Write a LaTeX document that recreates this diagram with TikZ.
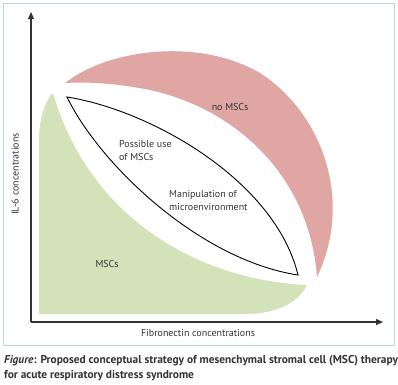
\documentclass[tikz,border=0pt]{standalone}
\usepackage{fontspec}
\setmainfont{PT Sans}
\usetikzlibrary{arrows.meta}
\definecolor{ink}{HTML}{333333}
\definecolor{frame}{HTML}{B9D7DF}
\definecolor{nomsc}{HTML}{DFA6A4}
\definecolor{msc}{HTML}{D4E2BA}
\begin{document}
\begin{tikzpicture}[>={Triangle[length=7pt,width=6pt]},x=1pt,y=-1pt,
  lbl/.style={font=\fontsize{10}{13}\selectfont,text=ink,align=left,inner sep=0pt}]
 \useasboundingbox (0,0) rectangle (398,384);
 \draw[frame] (3,3) rectangle (394,345);
 \fill[msc] (39,314) -- (245,314) .. controls (280,314) and (300,300) .. (307,285)
   .. controls (200,280) and (90,220) .. (53,93)
   .. controls (45,100) and (39,120) .. (39,140) -- cycle;
 \fill[nomsc] (65,83) .. controls (110,48) and (200,38) .. (260,73)
   .. controls (322,113) and (354,200) .. (317,277)
   .. controls (310,180) and (240,110) .. (150,90)
   .. controls (110,82) and (80,82) .. (65,83) -- cycle;
 \draw[black,line width=0.9pt] (67,97) .. controls (150,110) and (275,180) .. (298,275)
   .. controls (200,260) and (100,165) .. (67,97) -- cycle;
 \coordinate (o) at (31,322);
 \coordinate (ytip) at (31,12);
 \coordinate (xtip) at (383,322);
 \draw[->,ink,line width=1.3pt] (o) -- (ytip);
 \draw[->,ink,line width=1.3pt] (o) -- (xtip);
 \node[lbl] (nomsc) at (230,107) {no MSCs};
 \node[lbl,anchor=west] (possible) at (119,151) {Possible use\\of MSCs};
 \node[lbl,anchor=west] (manip) at (169,201) {Manipulation of\\microenvironment};
 \node[lbl] (mscs) at (107,264) {MSCs};
 \node[lbl,rotate=90] (ylab) at (15,174) {IL-6 concentrations};
 \node[lbl] (xlab) at (198,333) {Fibronectin concentrations};
 \node[lbl,anchor=west,font=\fontsize{11.4}{15}\selectfont\bfseries] (caption) at (4,368)
   {\textit{Figure}: Proposed conceptual strategy of mesenchymal stromal cell (MSC) therapy\\for acute respiratory distress syndrome};
\end{tikzpicture}
\end{document}
